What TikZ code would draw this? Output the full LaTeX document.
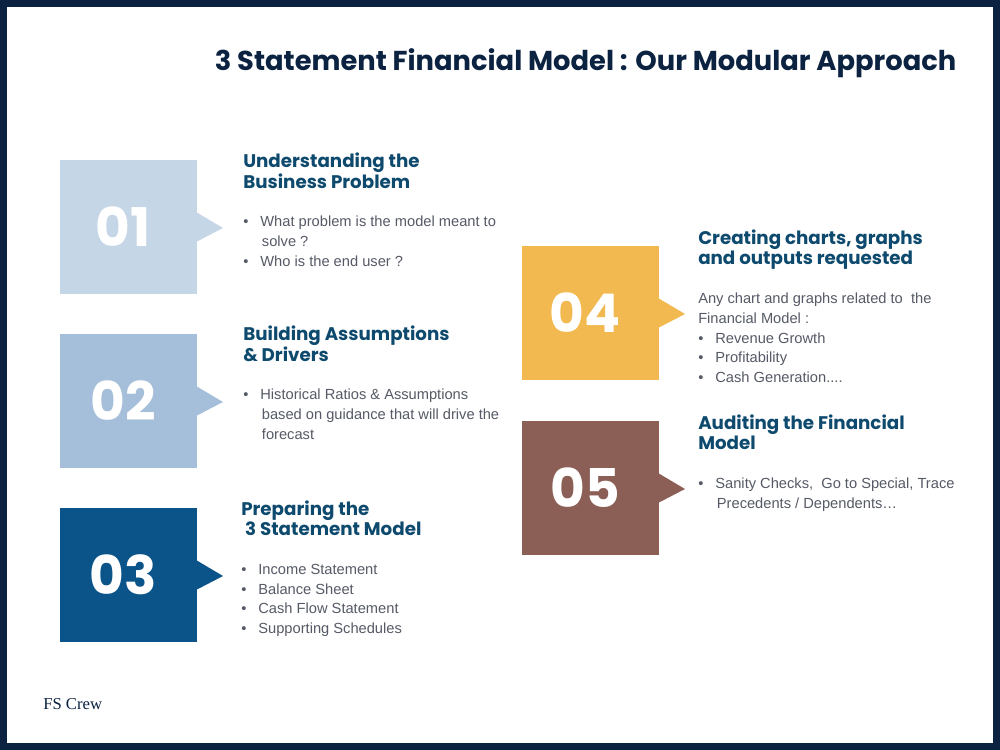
\documentclass[tikz,border=0pt]{standalone}
\usepackage{fontspec}
\setmainfont{Liberation Sans}
\newfontfamily\pop{Poppins}
\newfontfamily\ser{Liberation Serif}
\definecolor{navy}{HTML}{0B2341}
\definecolor{head}{HTML}{0E4A6E}
\definecolor{body}{HTML}{555A66}
\definecolor{cA}{HTML}{C5D6E6}
\definecolor{cB}{HTML}{A5BFDB}
\definecolor{cC}{HTML}{0B5489}
\definecolor{cD}{HTML}{F2B950}
\definecolor{cE}{HTML}{8B5F55}
\begin{document}
\begin{tikzpicture}[x=0.75pt,y=-0.75pt,
  num/.style={text=white,font=\pop\bfseries\fontsize{40}{40}\selectfont},
  hd/.style={anchor=north west,align=left,text=head,font=\pop\bfseries\fontsize{13.7}{14.5}\selectfont,inner sep=0},
  bl/.style={anchor=north west,align=left,text=body,font=\fontsize{11}{14.7}\selectfont,inner sep=0}]
\fill[navy] (0,0) rectangle (1000,750);
\fill[white] (7,7) rectangle (993,743);
\node[anchor=east,text=navy,font=\pop\bfseries\fontsize{20.5}{22}\selectfont] (title) at (961,63) {3 Statement Financial Model : Our Modular Approach};
\newcommand\blk[5]{% x y color name label
  \fill[#3] (#1,#2) rectangle ++(137,134);
  \fill[#3] (#1+136,#2+52) -- (#1+163,#2+68) -- (#1+136,#2+82) -- cycle;
  \node[num] (#4) at (#1+63,#2+67) {#5};}
\blk{60}{160}{cA}{n1}{01}
\blk{60}{334}{cB}{n2}{02}
\blk{60}{508}{cC}{n3}{03}
\blk{522}{246}{cD}{n4}{04}
\blk{522}{421}{cE}{n5}{05}
\node[hd] (h1) at (243,153) {Understanding the\\Business Problem};
\node[bl] (b1) at (243,216) {•\hspace{9pt}What problem is the model meant to\\\hspace{14pt}solve ?\\•\hspace{9pt}Who is the end user ?};
\node[hd] (h2) at (243,326) {Building Assumptions\\\& Drivers};
\node[bl] (b2) at (243,389) {•\hspace{9pt}Historical Ratios \& Assumptions\\\hspace{14pt}based on guidance that will drive the\\\hspace{14pt}forecast};
\node[hd] (h3) at (241,501) {Preparing the\\\ 3 Statement Model};
\node[bl] (b3) at (241,564) {•\hspace{9pt}Income Statement\\•\hspace{9pt}Balance Sheet\\•\hspace{9pt}Cash Flow Statement\\•\hspace{9pt}Supporting Schedules};
\node[hd] (h4) at (698,230) {Creating charts, graphs\\and outputs requested};
\node[bl] (b4) at (698,293) {Any chart and graphs related to\ \ the\\Financial Model :\\•\hspace{9pt}Revenue Growth\\•\hspace{9pt}Profitability\\•\hspace{9pt}Cash Generation....};
\node[hd] (h5) at (698,415) {Auditing the Financial\\Model};
\node[bl] (b5) at (698,478) {•\hspace{9pt}Sanity Checks,\ \ Go to Special, Trace\\\hspace{14pt}Precedents / Dependents…};
\node[anchor=base west,font=\ser\fontsize{12.5}{14}\selectfont,text=navy,inner sep=0] (fs) at (43,709) {FS Crew};
\end{tikzpicture}
\end{document}
